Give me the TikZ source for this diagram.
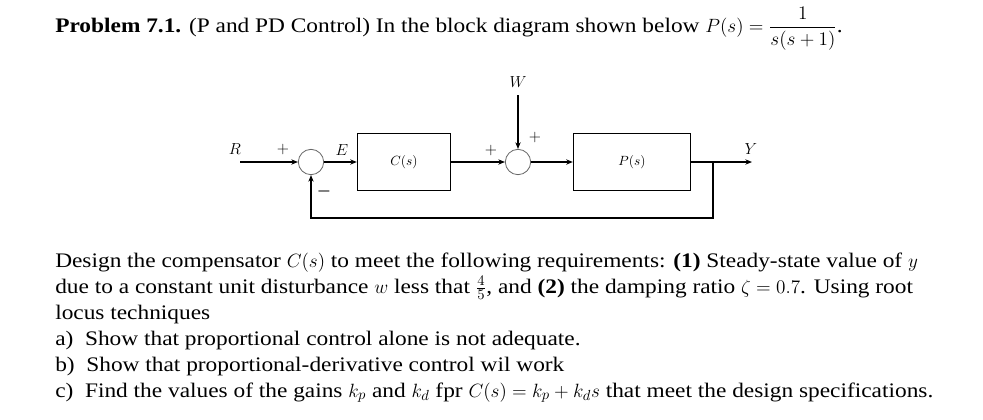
\documentclass[tikz,border=0pt]{standalone}
\usepackage{amsmath}
\usepackage{fontspec}
\setmainfont[FakeStretch=1.13]{Liberation Serif}
\usetikzlibrary{arrows.meta}
\begin{document}
\begin{tikzpicture}[x=0.75pt,y=-0.75pt,
 blk/.style={draw,line width=0.8pt,minimum width=70pt,minimum height=43pt,inner sep=0},
 sum/.style={circle,draw=black!60,line width=0.6pt,minimum size=19pt,inner sep=0},
 sig/.style={-{Stealth[length=5pt,width=4pt]},line width=0.8pt},
 lab/.style={font=\fontsize{13}{14}\selectfont,inner sep=1pt},
 txt/.style={anchor=base west,inner sep=0,font=\fontsize{15.5}{17}\selectfont}]
\useasboundingbox (0,0) rectangle (983,419);
\node[txt] (t0) at (55,32) {\textbf{Problem 7.1.} (P and PD Control) In the block diagram shown below $P(s)=\dfrac{1}{s(s+1)}$.};
\node[sum] (s1) at (311,162) {};
\node[blk] (c) at (404,162) {$C(s)$};
\node[sum] (s2) at (518,162) {};
\node[blk,minimum width=88pt] (p) at (632,162) {$P(s)$};
\coordinate (rin) at (240,162);
\coordinate (yout) at (752,162);
\coordinate (br) at (713,162);
\coordinate (wtop) at (518,95);
\draw[sig] (rin) -- (s1);
\draw[sig] (s1) -- (c);
\draw[sig] (c) -- (s2);
\draw[sig] (s2) -- (p);
\draw[sig] (p) -- (yout);
\draw[sig] (wtop) -- (s2);
\draw[sig] (br) -- (713,218) -| (s1);
\node[lab] (lr) at (235,149) {$R$};
\node[lab] (lp1) at (283,149) {$+$};
\node[lab] (le) at (342,150) {$E$};
\node[lab] (lm) at (324,191) {$\boldsymbol{-}$};
\node[lab] (lp2) at (491,150) {$+$};
\node[lab] (lp3) at (535,137) {$+$};
\node[lab] (lw) at (518,82) {$W$};
\node[lab] (ly) at (751,149) {$Y$};
\node[txt] (t1) at (55,267) {Design the compensator $C(s)$ to meet the following requirements: \textbf{(1)} Steady-state value of $y$};
\node[txt] (t2) at (55,293) {due to a constant unit disturbance $w$ less that $\frac45$, and \textbf{(2)} the damping ratio $\zeta=0.7$. Using root};
\node[txt] (t3) at (55,319) {locus techniques};
\node[txt] (t4) at (55,345) {a)\ \ Show that proportional control alone is not adequate.};
\node[txt] (t5) at (55,371) {b)\ \ Show that proportional-derivative control wil work};
\node[txt] (t6) at (55,397) {c)\ \ Find the values of the gains $k_p$ and $k_d$ fpr $C(s)=k_p+k_ds$ that meet the design specifications.};
\end{tikzpicture}
\end{document}
